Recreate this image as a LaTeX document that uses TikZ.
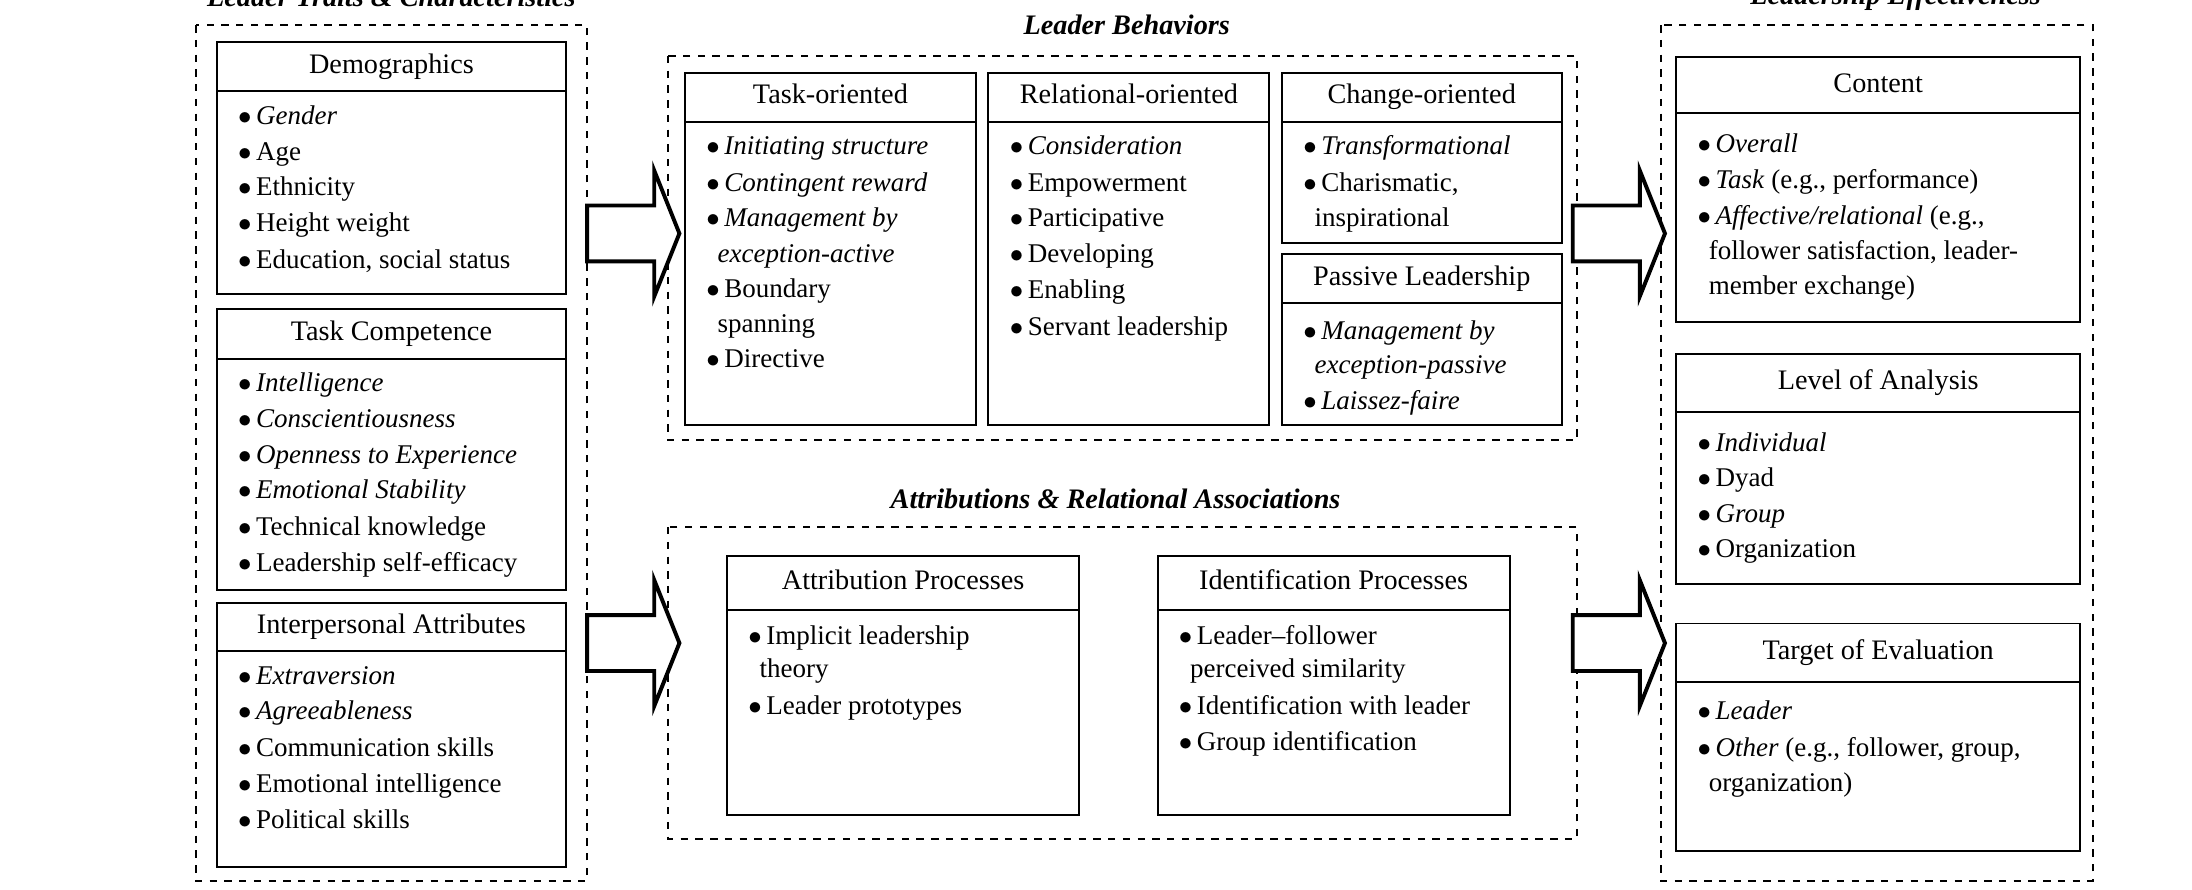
\documentclass[tikz,border=0pt]{standalone}
\usepackage{fontspec}
\setmainfont{Liberation Serif}
\tikzset{
 box/.style={draw,line width=0.8pt},
 dbox/.style={draw,dashed,line width=0.8pt},
 hd/.style={font=\fontsize{11.5}{14}\selectfont,text height=1.6ex,text depth=.4ex},
 tt/.style={font=\fontsize{11.5}{14}\selectfont\bfseries\itshape},
 itm/.style={anchor=west,inner sep=0pt,font=\fontsize{11}{14}\selectfont,text height=1.6ex,text depth=.4ex},
 barrow/.style={draw,line width=1.6pt,fill=white,line join=miter}
}
\newcommand{\bul}[3]{\node[itm] at (#1,#2) {$\bullet$\,#3};}
\newcommand{\cont}[3]{\node[itm] at (#1+8,#2) {#3};}
\newcommand{\cbox}[6]{% x1 y1 x2 y2 ydiv title
 \draw[box] (#1,#2) rectangle (#3,#4); \draw[box] (#1,#5)--(#3,#5);
 \node[hd] at ({(#1+#3)/2},{(#2+#5)/2}) {#6};}
\newcommand{\barr}[2]{% x, ycenter
 \draw[barrow] (#1,#2-20)--(#1+48,#2-20)--(#1+48,#2-45)--(#1+66,#2)--(#1+48,#2+45)--(#1+48,#2+20)--(#1,#2+20)--cycle;}
\begin{document}
\begin{tikzpicture}[x=0.02cm,y=-0.02cm]
\clip (0,0) rectangle (1568,636);
\useasboundingbox (0,0) rectangle (1568,636);
\fill[white] (0,0) rectangle (1568,636);
% left column
\draw[dbox] (140,18) rectangle (420,630);
\node[tt] at (280,-2) {Leader Traits \& Characteristics};
\cbox{155}{30}{405}{210}{65}{Demographics}
\bul{170}{84}{\textit{Gender}}
\bul{170}{110}{Age}
\bul{170}{135}{Ethnicity}
\bul{170}{161}{Height weight}
\bul{170}{187}{Education, social status}
\cbox{155}{221}{405}{422}{257}{Task Competence}
\bul{170}{275}{\textit{Intelligence}}
\bul{170}{301}{\textit{Conscientiousness}}
\bul{170}{327}{\textit{Openness to Experience}}
\bul{170}{352}{\textit{Emotional Stability}}
\bul{170}{378}{Technical knowledge}
\bul{170}{404}{Leadership self-efficacy}
\cbox{155}{431}{405}{620}{466}{Interpersonal Attributes}
\bul{170}{485}{\textit{Extraversion}}
\bul{170}{510}{\textit{Agreeableness}}
\bul{170}{536}{Communication skills}
\bul{170}{562}{Emotional intelligence}
\bul{170}{588}{Political skills}
% leader behaviors
\draw[dbox] (478,40) rectangle (1128,315);
\node[tt] at (806,18) {Leader Behaviors};
\cbox{490}{52}{698}{304}{87}{Task-oriented}
\bul{505}{106}{\textit{Initiating structure}}
\bul{505}{132}{\textit{Contingent reward}}
\bul{505}{157}{\textit{Management by}}
\cont{505}{183}{\textit{exception-active}}
\bul{505}{208}{Boundary}
\cont{505}{233}{spanning}
\bul{505}{258}{Directive}
\cbox{707}{52}{908}{304}{87}{Relational-oriented}
\bul{722}{106}{\textit{Consideration}}
\bul{722}{132}{Empowerment}
\bul{722}{157}{Participative}
\bul{722}{183}{Developing}
\bul{722}{209}{Enabling}
\bul{722}{235}{Servant leadership}
\cbox{917}{52}{1117}{174}{87}{Change-oriented}
\bul{932}{106}{\textit{Transformational}}
\bul{932}{132}{Charismatic,}
\cont{932}{157}{inspirational}
\cbox{917}{182}{1117}{304}{217}{Passive Leadership}
\bul{932}{238}{\textit{Management by}}
\cont{932}{262}{\textit{exception-passive}}
\bul{932}{288}{\textit{Laissez-faire}}
% attributions
\draw[dbox] (478,377) rectangle (1128,600);
\node[tt] at (798,357) {Attributions \& Relational Associations};
\cbox{520}{398}{772}{583}{436}{Attribution Processes}
\bul{535}{456}{Implicit leadership}
\cont{535}{480}{theory}
\bul{535}{506}{Leader prototypes}
\cbox{828}{398}{1080}{583}{436}{Identification Processes}
\bul{843}{456}{Leader--follower}
\cont{843}{480}{perceived similarity}
\bul{843}{506}{Identification with leader}
\bul{843}{532}{Group identification}
% right column
\draw[dbox] (1188,18) rectangle (1497,630);
\node[tt] at (1356,-2) {Leadership Effectiveness};
\cbox{1199}{41}{1488}{230}{81}{Content}
\bul{1214}{104}{\textit{Overall}}
\bul{1214}{130}{\textit{Task} (e.g., performance)}
\bul{1214}{156}{\textit{Affective/relational} (e.g.,}
\cont{1214}{181}{follower satisfaction, leader-}
\cont{1214}{206}{member exchange)}
\cbox{1199}{253}{1488}{418}{295}{Level of Analysis}
\bul{1214}{318}{\textit{Individual}}
\bul{1214}{343}{Dyad}
\bul{1214}{369}{\textit{Group}}
\bul{1214}{394}{Organization}
\cbox{1199}{446}{1488}{609}{488}{Target of Evaluation}
\bul{1214}{510}{\textit{Leader}}
\bul{1214}{536}{\textit{Other} (e.g., follower, group,}
\cont{1214}{561}{organization)}
% arrows
\barr{420}{167}
\barr{420}{460}
\barr{1125}{167}
\barr{1125}{460}
\end{tikzpicture}
\end{document}
